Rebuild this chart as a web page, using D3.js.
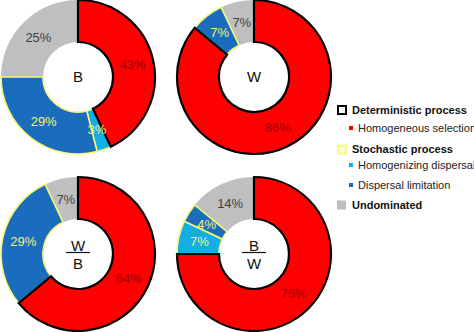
<!DOCTYPE html>
<html>
<head>
<meta charset="utf-8">
<script src="https://cdn.jsdelivr.net/npm/d3@7"></script>
<style>
  html, body { margin: 0; padding: 0; background: #fff; }
  svg { display: block; font-family: "Liberation Sans", Arial, sans-serif; }
</style>
</head>
<body>
<svg id="chart" width="474" height="332"></svg>
<script>
// Community assembly processes, share (%) for each comparison
const categories = ["Homogeneous selection", "Homogenizing dispersal", "Dispersal limitation", "Undominated"];
const panelNames = ["B", "W", "W/B", "B/W"];
const valuesB  = [43, 3, 29, 25];
const valuesW  = [86, 0, 7, 7];
const valuesWB = [64, 0, 29, 7];
const valuesBW = [75, 7, 4, 14];
const panelValues = [valuesB, valuesW, valuesWB, valuesBW];

const groupLabels = ["Deterministic process", "Stochastic process", "Undominated"];

const fillColor = d3.scaleOrdinal()
  .domain(categories)
  .range(["#ff0000", "#14aee6", "#1a6dbd", "#bfbfbf"]);
const strokeColor = d3.scaleOrdinal()
  .domain(categories)
  .range(["#000000", "#f7f77a", "#f7f77a", "none"]);
const labelColor = d3.scaleOrdinal()
  .domain(categories)
  .range(["#9a0000", "#f2f27a", "#f2f27a", "#404040"]);

const svg = d3.select("#chart");

const outerR = 77, innerR = 35;
const pie = d3.pie().sort(null).value(d => d.value);
const arc = d3.arc().innerRadius(innerR).outerRadius(outerR);

// grid of donuts: two columns, two rows
const colX = d3.scalePoint().domain([0, 1]).range([78, 254]);
const rowY = d3.scalePoint().domain([0, 1]).range([77, 254]);

// draw order so the black outline of the red slice stays on top
const drawOrder = [3, 1, 2, 0];

panelNames.forEach((name, i) => {
  const data = categories.map((c, k) => ({ cat: c, value: panelValues[i][k], order: k }));
  const arcs = pie(data);
  const g = svg.append("g")
    .attr("transform", `translate(${colX(i % 2)},${rowY(Math.floor(i / 2))})`);

  const sorted = drawOrder.map(k => arcs[k]).filter(a => a.data.value > 0);
  g.selectAll("path.slice")
    .data(sorted)
    .join("path")
    .attr("class", "slice")
    .attr("d", arc)
    .attr("fill", d => fillColor(d.data.cat))
    .attr("stroke", d => strokeColor(d.data.cat))
    .attr("stroke-width", d => d.data.order === 0 ? 2.2 : 1.6)
    .attr("stroke-linejoin", "miter");

  g.selectAll("text.pct")
    .data(arcs.filter(a => a.data.value > 0))
    .join("text")
    .attr("class", "pct")
    .attr("transform", d => `translate(${arc.centroid(d)})`)
    .attr("text-anchor", "middle")
    .attr("dy", "0.36em")
    .attr("font-size", 13)
    .attr("fill", d => labelColor(d.data.cat))
    .text(d => d.data.value + "%");

  // centre label: single letter or a fraction
  const parts = name.split("/");
  if (parts.length === 1) {
    g.append("text")
      .attr("text-anchor", "middle")
      .attr("dy", "0.36em")
      .attr("font-size", 15)
      .attr("fill", "#111")
      .text(name);
  } else {
    g.append("text")
      .attr("text-anchor", "middle")
      .attr("y", -8)
      .attr("dy", "0.36em")
      .attr("font-size", 15)
      .attr("fill", "#111")
      .text(parts[0]);
    g.append("line")
      .attr("x1", -12).attr("x2", 12)
      .attr("y1", -1.5).attr("y2", -1.5)
      .attr("stroke", "#111").attr("stroke-width", 1.2);
    g.append("text")
      .attr("text-anchor", "middle")
      .attr("y", 10)
      .attr("dy", "0.36em")
      .attr("font-size", 15)
      .attr("fill", "#111")
      .text(parts[1]);
  }
});

// legend
const legend = svg.append("g").attr("class", "legend");
const rows = [
  { text: groupLabels[0], bold: true,  kind: "box", fill: "#ffffff", stroke: "#000000", y: 110 },
  { text: categories[0],  bold: false, kind: "dot", fill: fillColor(categories[0]), y: 128 },
  { text: groupLabels[1], bold: true,  kind: "box", fill: "#fdfdd8", stroke: "#f7f78a", y: 149.5 },
  { text: categories[1],  bold: false, kind: "dot", fill: fillColor(categories[1]), y: 165 },
  { text: categories[2],  bold: false, kind: "dot", fill: fillColor(categories[2]), y: 185 },
  { text: groupLabels[2], bold: true,  kind: "box", fill: fillColor(categories[3]), stroke: "none", y: 205 }
];

rows.forEach(r => {
  if (r.kind === "box") {
    legend.append("rect")
      .attr("x", 338).attr("y", r.y - 4)
      .attr("width", 8).attr("height", 8)
      .attr("fill", r.fill)
      .attr("stroke", r.stroke)
      .attr("stroke-width", r.stroke === "none" ? 0 : 2);
    if (r.stroke === "none") {
      legend.select("rect:last-child")
        .attr("x", 337).attr("y", r.y - 4.5)
        .attr("width", 9).attr("height", 9);
    }
    legend.append("text")
      .attr("x", 352).attr("y", r.y)
      .attr("dy", "0.36em")
      .attr("font-size", 11)
      .attr("font-weight", "bold")
      .attr("fill", "#111")
      .text(r.text);
  } else {
    legend.append("rect")
      .attr("x", 349).attr("y", r.y - 2)
      .attr("width", 4).attr("height", 4)
      .attr("fill", r.fill);
    legend.append("text")
      .attr("x", 358).attr("y", r.y)
      .attr("dy", "0.36em")
      .attr("font-size", 11)
      .attr("fill", "#222")
      .text(r.text);
  }
});
</script>
</body>
</html>
